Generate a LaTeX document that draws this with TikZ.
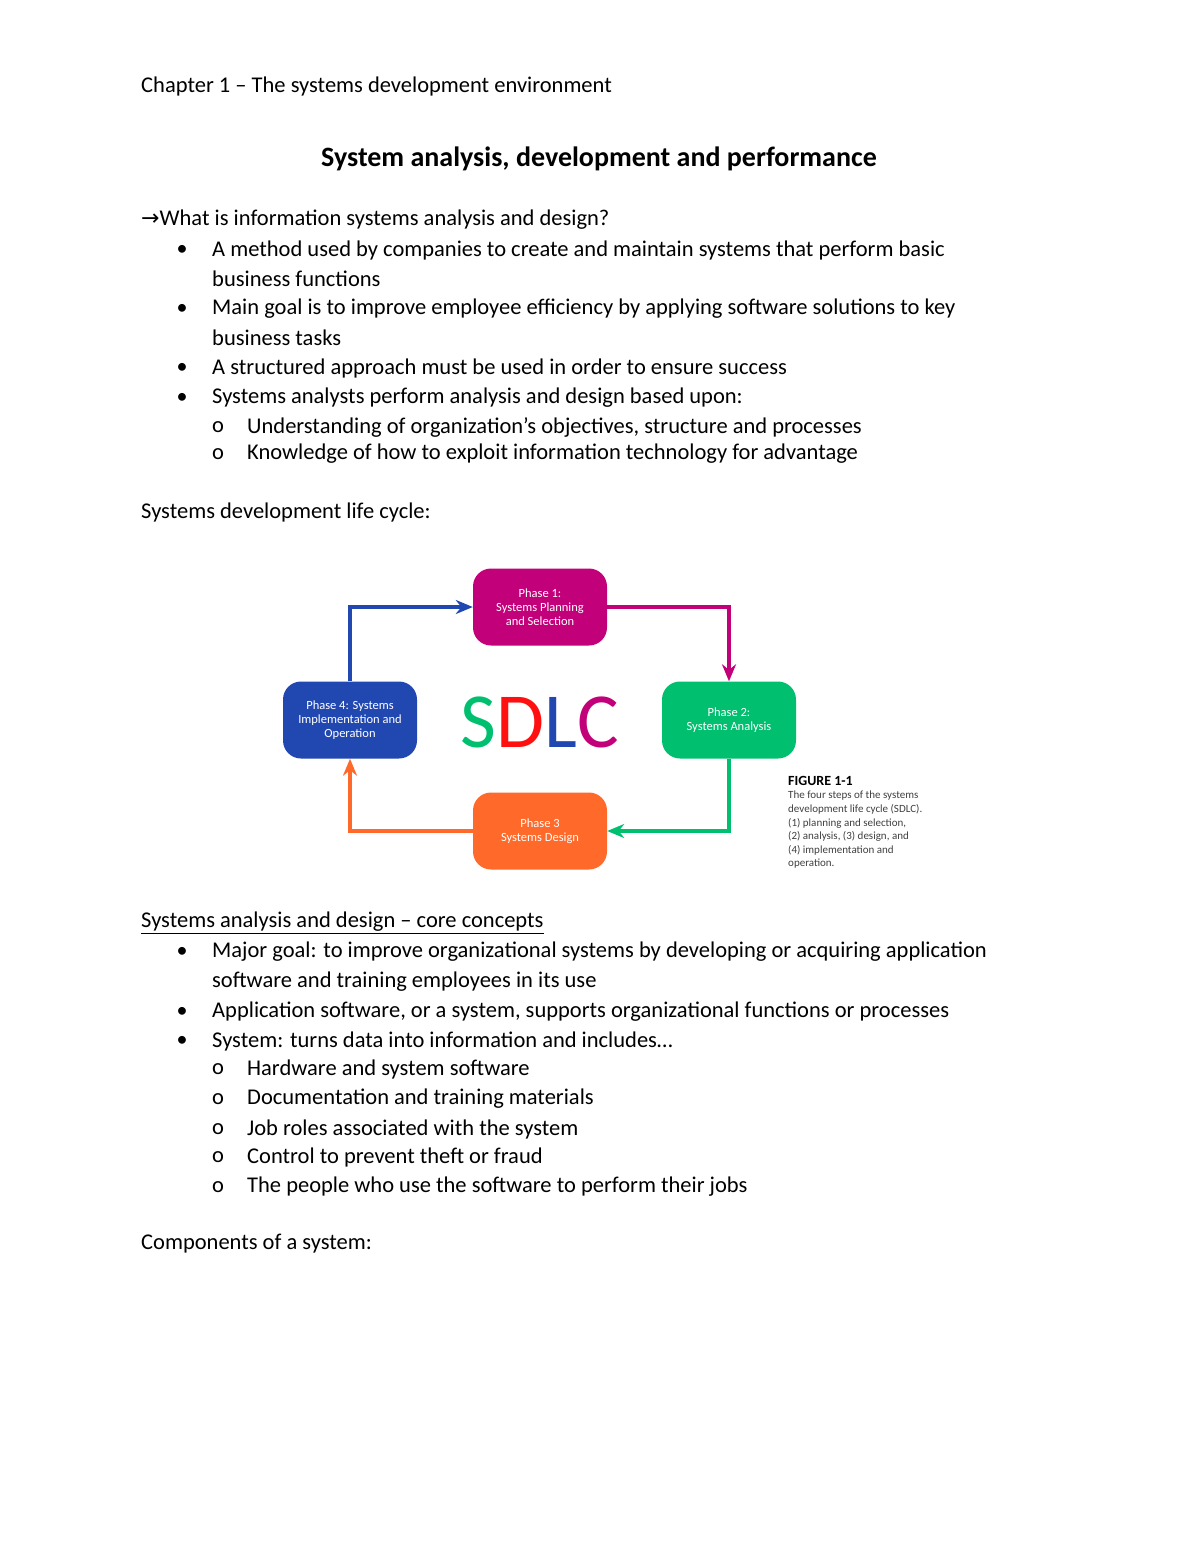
\documentclass[tikz,border=0pt]{standalone}
\usepackage{fontspec}
\setmainfont{Carlito}
\newfontfamily\dejavu{DejaVu Sans}
\usetikzlibrary{arrows.meta,calc}
\definecolor{pmag}{HTML}{C2007A}
\definecolor{pgreen}{HTML}{00C070}
\definecolor{pblue}{HTML}{2148B0}
\definecolor{porange}{HTML}{FF6A2A}
\definecolor{pred}{HTML}{FF1010}
\begin{document}
\begin{tikzpicture}[x=1pt,y=-1pt,
  txt/.style={anchor=west,inner sep=0pt,font=\fontsize{22.5}{24}\selectfont},
  bul/.style={anchor=center,inner sep=0pt,font=\fontsize{22}{24}\selectfont},
  phase/.style={rounded corners=18pt,minimum width=134pt,minimum height=77pt,text=white,align=center,font=\fontsize{12.5}{14}\selectfont,inner sep=2pt},
  conn/.style={line width=4pt,-{Stealth[length=17pt,width=14pt]}}]
\useasboundingbox (0,0) rectangle (1200,1553);
\fill[white] (0,0) rectangle (1200,1553);
\node[txt] (ch) at (141,86) {Chapter 1 -- The systems development environment};
\node[anchor=center,inner sep=0pt,font=\bfseries\fontsize{28}{30}\selectfont] (title) at (599,159) {System analysis, development and performance};
\node[txt] (q) at (141,220) {{\dejavu\fontsize{22}{24}\selectfont →}What is information systems analysis and design?};
\node[bul] (b1) at (182,250) {\textbullet};
\node[txt] (t1) at (212,250) {A method used by companies to create and maintain systems that perform basic};
\node[txt] (t1b) at (212,279) {business functions};
\node[bul] (b2) at (182,309) {\textbullet};
\node[txt] (t2) at (212,309) {Main goal is to improve employee efficiency by applying software solutions to key};
\node[txt] (t2b) at (212,338) {business tasks};
\node[bul] (b3) at (182,368) {\textbullet};
\node[txt] (t3) at (212,368) {A structured approach must be used in order to ensure success};
\node[bul] (b4) at (182,398) {\textbullet};
\node[txt] (t4) at (212,398) {Systems analysts perform analysis and design based upon:};
\node[txt] (o1) at (212,427) {o};
\node[txt] (s1) at (247,427) {Understanding of organization’s objectives, structure and processes};
\node[txt] (o2) at (212,454) {o};
\node[txt] (s2) at (247,454) {Knowledge of how to exploit information technology for advantage};
\node[txt] (sdlct) at (141,512) {Systems development life cycle:};
% diagram
\node[phase,fill=pmag] (p1) at (540,607) {Phase 1:\\Systems Planning\\and Selection};
\node[phase,fill=pgreen] (p2) at (729,720) {Phase 2:\\Systems Analysis};
\node[phase,fill=porange] (p3) at (540,831) {Phase 3\\Systems Design};
\node[phase,fill=pblue] (p4) at (350,720) {Phase 4: Systems\\Implementation and\\Operation};
\node[inner sep=0pt,font=\fontsize{78}{78}\selectfont] (sdlc) at (540,722) {\textcolor{pgreen}{S}\textcolor{pred}{D}\textcolor{pblue}{L}\textcolor{pmag}{C}};
\draw[conn,pblue] (p4.north) |- (p1.west);
\draw[conn,pmag] (p1.east) -| (p2.north);
\draw[conn,pgreen] (p2.south) |- (p3.east);
\draw[conn,porange] (p3.west) -| (p4.south);
\node[anchor=north west,inner sep=0pt,align=left,font=\fontsize{11}{13.6}\selectfont,text=black!75] (cap) at (788,776) {{\bfseries\fontsize{14}{14}\selectfont\color{black} FIGURE 1-1}\\The four steps of the systems\\development life cycle (SDLC).\\(1) planning and selection,\\(2) analysis, (3) design, and\\(4) implementation and\\operation.};
% second section
\node[txt] (h2) at (141,922) {Systems analysis and design -- core concepts};
\draw[line width=1pt] ($(h2.south west)+(0,2)$) -- ($(h2.south east)+(0,2)$);
\node[bul] (c1) at (182,952) {\textbullet};
\node[txt] (u1) at (212,952) {Major goal: to improve organizational systems by developing or acquiring application};
\node[txt] (u1b) at (212,982) {software and training employees in its use};
\node[bul] (c2) at (182,1012) {\textbullet};
\node[txt] (u2) at (212,1012) {Application software, or a system, supports organizational functions or processes};
\node[bul] (c3) at (182,1041) {\textbullet};
\node[txt] (u3) at (212,1041) {System: turns data into information and includes…};
\foreach \y/\t [count=\i] in {1069/{Hardware and system software},1099/{Documentation and training materials},1129/{Job roles associated with the system},1157/{Control to prevent theft or fraud},1187/{The people who use the software to perform their jobs}}{
  \node[txt] (so\i) at (212,\y) {o};
  \node[txt] (st\i) at (247,\y) {\t};
}
\node[txt] (comp) at (141,1244) {Components of a system:};
\end{tikzpicture}
\end{document}
